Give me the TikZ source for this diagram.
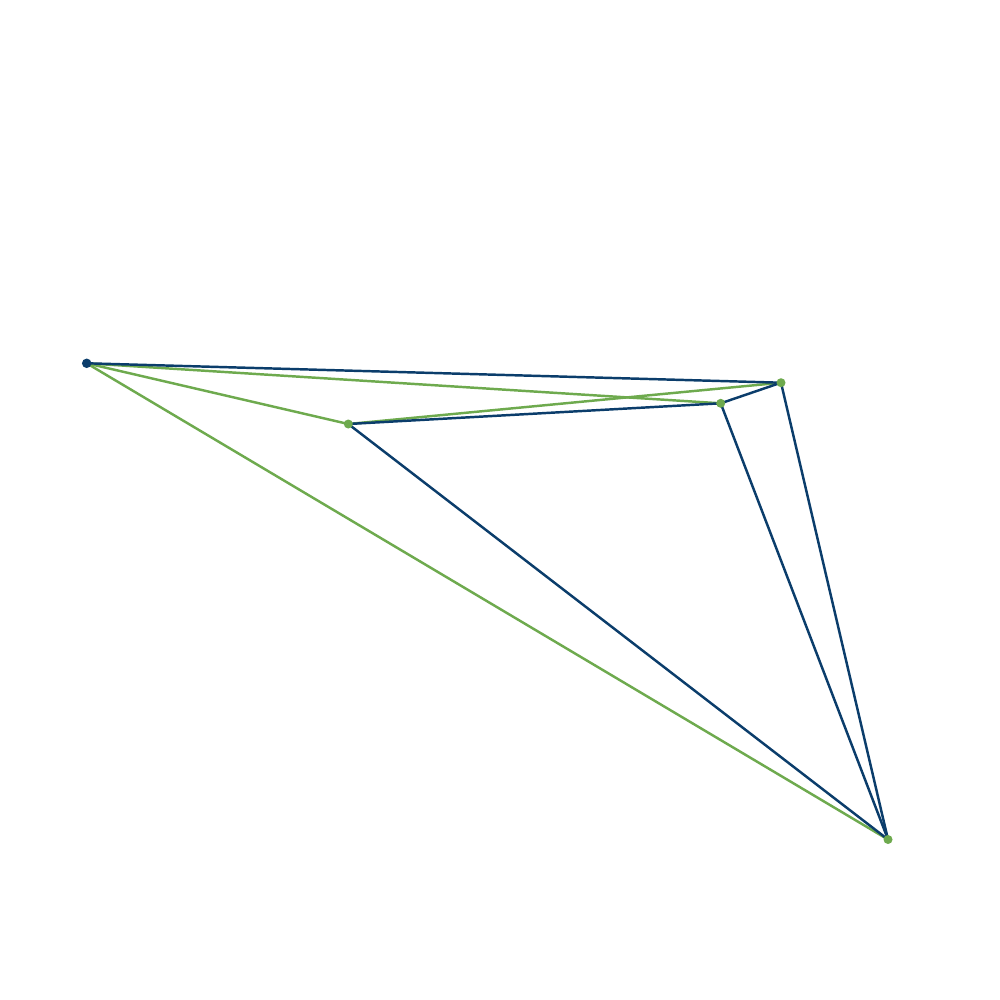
\documentclass[tikz,border=0pt]{standalone}
\definecolor{dblue}{HTML}{0B3D6B}
\definecolor{lgreen}{HTML}{6EAA4E}
\tikzset{
  bl/.style={draw=dblue, line width=0.7pt},
  gl/.style={draw=lgreen, line width=0.7pt},
  gdot/.style={circle, fill=lgreen, inner sep=0pt, minimum size=0.09cm},
  bdot/.style={circle, fill=dblue, inner sep=0pt, minimum size=0.095cm}
}
\begin{document}
\begin{tikzpicture}[x=0.01cm,y=-0.01cm]
\useasboundingbox (0,0) rectangle (1000,1000);
\coordinate (A) at (86.7,363.3);
\coordinate (B) at (781,382.7);
\coordinate (C) at (720.7,403.3);
\coordinate (D) at (348.3,424);
\coordinate (E) at (888,839.5);
\draw[gl] (A) -- (E);
\draw[gl] (A) -- (D);
\draw[gl] (A) -- (C);
\draw[gl] (D) -- (B);
\draw[bl] (A) -- (B);
\draw[bl] (D) -- (C);
\draw[bl] (C) -- (B);
\draw[bl] (B) -- (E);
\draw[bl] (C) -- (E);
\draw[bl] (D) -- (E);
\node[bdot] (nA) at (A) {};
\node[gdot] (nB) at (B) {};
\node[gdot] (nC) at (C) {};
\node[gdot] (nD) at (D) {};
\node[gdot] (nE) at (E) {};
\end{tikzpicture}
\end{document}
